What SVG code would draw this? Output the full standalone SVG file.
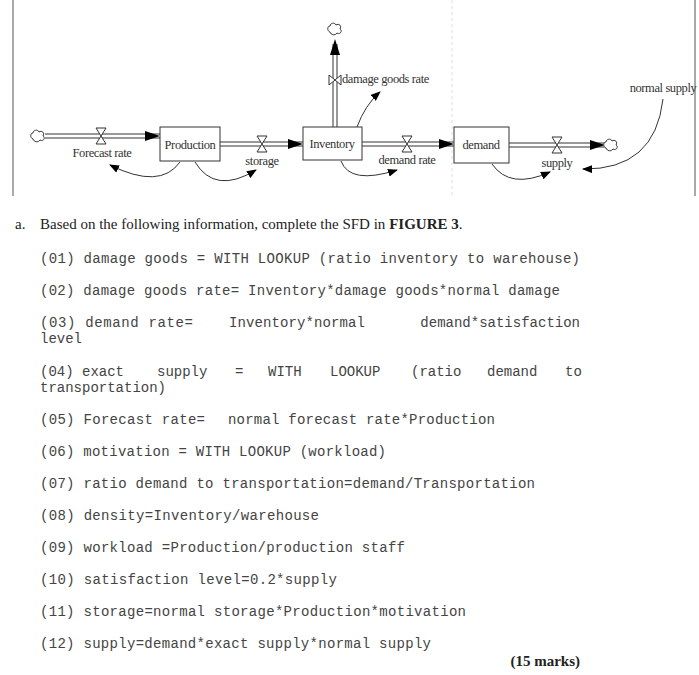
<svg xmlns="http://www.w3.org/2000/svg" width="699" height="675" viewBox="0 0 699 675">
<defs>
<marker id="ah" markerWidth="10" markerHeight="8" refX="9" refY="4" orient="auto" markerUnits="userSpaceOnUse"><path d="M0,0 L10,4 L0,8 z" fill="#000"/></marker>
<symbol id="cloud" viewBox="-8 -7 16 14" overflow="visible"><path d="M-5,3 C-8,2 -8,-3 -5,-3 C-5,-6 0,-7 1,-4 C4,-6 7,-3 5,0 C8,2 5,6 2,4 C0,7 -4,6 -5,3 z" fill="#fff" stroke="#333" stroke-width="1"/></symbol>
<symbol id="valve" viewBox="-5 -8 10 16" overflow="visible"><path d="M-5,-8 L5,-8 L-5,8 L5,8 z" fill="#fff" stroke="#333" stroke-width="1"/></symbol>
</defs>
<style>
.box{fill:#fff;stroke:#333;stroke-width:1}
.lbl{font-family:"Liberation Serif",serif;font-size:12.5px;fill:#333;letter-spacing:-0.4px}
.pipe{fill:none;stroke:#333;stroke-width:1}
.link{fill:none;stroke:#333;stroke-width:1}
.mono{font-family:"Liberation Mono",monospace;font-size:14px;fill:#444}
.serif{font-family:"Liberation Serif",serif;font-size:15px;fill:#222}
</style>
<rect width="699" height="675" fill="#fff"/>
<line x1="13" y1="0" x2="13" y2="196" stroke="#555"/>
<line x1="695" y1="0" x2="695" y2="196" stroke="#555"/>
<line x1="452" y1="0" x2="452" y2="196" stroke="#ddd" stroke-dasharray="3,3"/>
<g id="connectors">
<path class="pipe" d="M45,134 H160 M45,138 H160"/>
<path d="M145,131 L160,136 L145,141 z" fill="#000"/>
<path class="pipe" d="M220,142 H303 M220,146 H303"/>
<path d="M288,139 L303,144 L288,149 z" fill="#000"/>
<path class="pipe" d="M333,127 V44 M337,127 V44"/>
<path d="M330,55 L335,39 L340,55 z" fill="#000"/>
<path class="pipe" d="M362,142 H454 M362,146 H454"/>
<path d="M439,139 L454,144 L439,149 z" fill="#000"/>
<path class="pipe" d="M509,143 H605 M509,147 H605"/>
<path d="M590,140 L605,145 L590,150 z" fill="#000"/>
<path class="link" d="M180,162 Q160,190 110,165" marker-end="url(#ah)"/>
<path class="link" d="M195,162 Q215,195 256,170" marker-end="url(#ah)"/>
<path class="link" d="M357,127 Q365,105 380,92" marker-end="url(#ah)"/>
<path class="link" d="M341,161 Q350,185 397,170" marker-end="url(#ah)"/>
<path class="link" d="M492,164 Q510,190 550,172" marker-end="url(#ah)"/>
<path class="link" d="M663,99 Q655,170 583,169" marker-end="url(#ah)"/>
</g>
<g id="cloud-forecast"><use href="#cloud" x="30" y="129" width="16" height="14"/></g>
<g id="cloud-damage"><use href="#cloud" x="327" y="22" width="16" height="14"/></g>
<g id="cloud-supply"><use href="#cloud" x="603" y="138" width="16" height="14"/></g>
<g id="forecast-rate"><use href="#valve" x="96" y="128" width="10" height="16"/><text class="lbl" x="102" y="157" text-anchor="middle">Forecast rate</text></g>
<g id="production"><rect class="box" x="160" y="127" width="60" height="34"/><text class="lbl" x="190" y="149" text-anchor="middle">Production</text></g>
<g id="storage"><use href="#valve" x="257" y="136" width="10" height="16"/><text class="lbl" x="262" y="165" text-anchor="middle">storage</text></g>
<g id="inventory"><rect class="box" x="303" y="127" width="59" height="33"/><text class="lbl" x="332" y="148" text-anchor="middle">Inventory</text></g>
<g id="damage-goods-rate"><path d="M329,75 L341,85 L341,75 L329,85 z" fill="#fff" stroke="#333"/><text class="lbl" x="342" y="83">damage goods rate</text></g>
<g id="demand-rate"><use href="#valve" x="402" y="136" width="10" height="16"/><text class="lbl" x="407" y="164" text-anchor="middle">demand rate</text></g>
<g id="demand"><rect class="box" x="454" y="127" width="55" height="36"/><text class="lbl" x="481" y="149" text-anchor="middle">demand</text></g>
<g id="supply"><use href="#valve" x="552" y="137" width="10" height="16"/><text class="lbl" x="557" y="167" text-anchor="middle">supply</text></g>
<g id="normal-supply"><text class="lbl" x="663" y="92" text-anchor="middle">normal supply</text></g>
<g id="text">
<text class="serif" x="15" y="229">a.</text>
<text class="serif" x="40" y="229">Based on the following information, complete the SFD in <tspan font-weight="bold">FIGURE 3</tspan>.</text>
<text class="mono" x="40" y="263" textLength="540" lengthAdjust="spacing">(01) damage goods = WITH LOOKUP (ratio inventory to warehouse)</text>
<text class="mono" x="40" y="295" textLength="520" lengthAdjust="spacing">(02) damage goods rate= Inventory*damage goods*normal damage</text>
<text class="mono" x="40" y="327" textLength="153" lengthAdjust="spacing">(03) demand rate=</text>
<text class="mono" x="229" y="327" textLength="136" lengthAdjust="spacing">Inventory*normal</text>
<text class="mono" x="580" y="327" text-anchor="end">demand*satisfaction</text>
<text class="mono" x="40" y="343" textLength="42" lengthAdjust="spacing">level</text>
<text class="mono" x="40" y="376">(04) exact</text>
<text class="mono" x="157" y="376">supply</text>
<text class="mono" x="235" y="376">=</text>
<text class="mono" x="268" y="376">WITH</text>
<text class="mono" x="330" y="376">LOOKUP</text>
<text class="mono" x="411" y="376">(ratio</text>
<text class="mono" x="487" y="376">demand</text>
<text class="mono" x="565" y="376">to</text>
<text class="mono" x="40" y="392" textLength="126" lengthAdjust="spacing">transportation)</text>
<text class="mono" x="40" y="424" textLength="165" lengthAdjust="spacing">(05) Forecast rate=</text>
<text class="mono" x="228" y="424" textLength="267" lengthAdjust="spacing">normal forecast rate*Production</text>
<text class="mono" x="40" y="456" textLength="346" lengthAdjust="spacing">(06) motivation = WITH LOOKUP (workload)</text>
<text class="mono" x="40" y="488" textLength="495" lengthAdjust="spacing">(07) ratio demand to transportation=demand/Transportation</text>
<text class="mono" x="40" y="520" textLength="279" lengthAdjust="spacing">(08) density=Inventory/warehouse</text>
<text class="mono" x="40" y="552" textLength="365" lengthAdjust="spacing">(09) workload =Production/production staff</text>
<text class="mono" x="40" y="584" textLength="297" lengthAdjust="spacing">(10) satisfaction level=0.2*supply</text>
<text class="mono" x="40" y="616" textLength="426" lengthAdjust="spacing">(11) storage=normal storage*Production*motivation</text>
<text class="mono" x="40" y="648" textLength="391" lengthAdjust="spacing">(12) supply=demand*exact supply*normal supply</text>
<text class="serif" x="580" y="666" text-anchor="end" font-weight="bold">(15 marks)</text>
</g>
</svg>
